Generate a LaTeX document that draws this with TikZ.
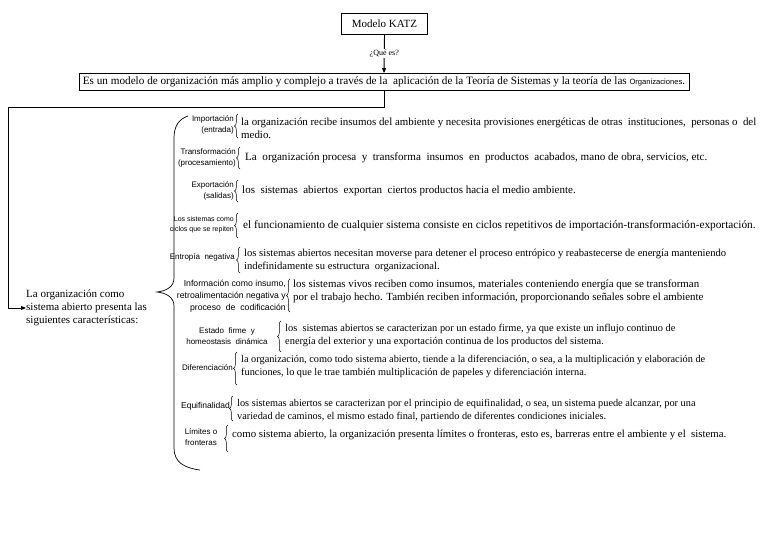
\documentclass[tikz,border=0pt]{standalone}
\usepackage{fontspec}
\setmainfont{Liberation Serif}
\newfontfamily\labfont{Liberation Sans}
\usetikzlibrary{decorations.pathreplacing,arrows.meta}
\newcommand{\fs}[1]{\fontsize{#1}{13}\selectfont}
\begin{document}
\begin{tikzpicture}[x=1pt,y=-1pt,
  txt/.style={anchor=west,align=left,inner sep=0pt,font=\fontsize{10}{13}\selectfont},
  lab/.style={anchor=east,align=right,inner sep=0pt,font=\labfont\fontsize{8}{10.5}\selectfont},
  labc/.style={align=center,inner sep=0pt,font=\labfont\fontsize{8}{11}\selectfont},
  sbrace/.style={decorate,decoration={brace,amplitude=3.5pt},line width=0.5pt},
  box/.style={draw,line width=0.8pt,inner sep=0pt},
  conn/.style={line width=0.9pt},
  tip/.style={-{Triangle[length=5pt,width=4pt]}},
]
\useasboundingbox (0,0) rectangle (768,543);
\fill[white] (0,0) rectangle (768,543);

\node[box,minimum width=86pt,minimum height=21pt,font=\fontsize{11}{13}\selectfont] (katz) at (384.5,23.5) {Modelo KATZ};
\node[box,minimum width=610pt,minimum height=17pt,font=\fontsize{11.2}{13}\selectfont] (def) at (384,82)
  {Es un modelo de organización más amplio y complejo a través de la\ \ aplicación de la Teoría de Sistemas y la teoría de las {\labfont\fontsize{7.6}{8}\selectfont Organizaciones}.};
\draw[conn,tip] (katz.south) -- node[fill=white,inner sep=1pt,font=\fontsize{8}{9}\selectfont]{¿Qué es?} (def.north);

\node[txt,font=\fontsize{11}{13}\selectfont] (org) at (26,308) {La organización como\\sistema abierto presenta las\\siguientes características:};
\coordinate (c1) at (8,107);
\draw[conn,tip] (def.south) |- (c1) |- (org.west);

% big brace
\draw[line width=0.7pt] (188,116) .. controls (179,119) and (174,126) .. (174,138) -- (174,278)
  .. controls (174,287) and (166,291) .. (157,292) .. controls (166,293) and (174,297) .. (174,306)
  -- (174,448) .. controls (174,462) and (184,468) .. (200,470);

% row 1
\node[lab] (l1) at (234,125) {Importación\\(entrada)};
\draw[sbrace] (238,138) -- (238,114);
\node[txt,font=\fs{10.9}] (t1) at (241,128) {la organización recibe insumos del ambiente y necesita provisiones energéticas de otras\ \ instituciones,\ \ personas o\ \ del\\medio.};
% row 2
\node[lab] (l2) at (236,158) {Transformación\\(procesamiento)};
\draw[sbrace] (240,169) -- (240,147);
\node[txt,font=\fs{11.1}] (t2) at (245,158) {La\ \ organización procesa\ \ y\ \ transforma\ \ insumos\ \ en\ \ productos\ \ acabados, mano de obra, servicios, etc.};
% row 3
\node[lab] (l3) at (234,191) {Exportación\\(salidas)};
\draw[sbrace] (238,202) -- (238,180);
\node[txt,font=\fs{11}] (t3) at (242,191) {los\ \ sistemas\ \ abiertos\ \ exportan\ \ ciertos productos hacia el medio ambiente.};
% row 4
\node[lab,font=\labfont\fontsize{7}{10.5}\selectfont] (l4) at (234,224.5) {Los sistemas como\\ciclos que se repiten};
\draw[sbrace] (238,238) -- (238,213);
\node[txt,font=\fs{11.3}] (t4) at (243,226) {el funcionamiento de cualquier sistema consiste en ciclos repetitivos de importación-transformación-exportación.};
% row 5
\node[lab] (l5) at (235,257) {Entropía\ \ negativa};
\draw[sbrace] (240,273) -- (240,247);
\node[txt,font=\fs{10.6}] (t5) at (244,260.5) {los sistemas abiertos necesitan moverse para detener el proceso entrópico y reabastecerse de energía manteniendo\\indefinidamente su estructura\ \ organizacional.};
% row 6
\node[lab,font=\labfont\fontsize{8.7}{12}\selectfont] (l6) at (286,296) {Información como insumo,\\retroalimentación negativa y\\proceso\ \ de\ \ codificación};
\draw[sbrace] (290,312) -- (290,279);
\node[txt,font=\fs{10.9}] (t6) at (293,291.5) {los sistemas vivos reciben como insumos, materiales conteniendo energía que se transforman\\por el trabajo hecho. También reciben información, proporcionando señales sobre el ambiente};
% row 7
\node[labc] (l7) at (227,336.5) {Estado\ \ firme\ \ y\\homeostasis\ \ dinámica};
\draw[sbrace] (281,352) -- (281,321);
\node[txt,font=\fs{10.4}] (t7) at (285,335.5) {los\ \ sistemas abiertos se caracterizan por un estado firme, ya que existe un influjo continuo de\\energía del exterior y una exportación continua de los productos del sistema.};
% row 8
\node[lab] (l8) at (233,368) {Diferenciación};
\draw[sbrace] (237,385) -- (237,352);
\node[txt,font=\fs{10.3}] (t8) at (241,366.5) {la organización, como todo sistema abierto, tiende a la diferenciación, o sea, a la multiplicación y elaboración de\\funciones, lo que le trae también multiplicación de papeles y diferenciación interna.};
% row 9
\node[lab,font=\labfont\fontsize{8.5}{10.5}\selectfont] (l9) at (230,406) {Equifinalidad};
\draw[sbrace] (233,421) -- (233,396);
\node[txt,font=\fs{10.3}] (t9) at (237,410) {los sistemas abiertos se caracterizan por el principio de equifinalidad, o sea, un sistema puede alcanzar, por una\\variedad de caminos, el mismo estado final, partiendo de diferentes condiciones iniciales.};
% row 10
\node[labc] (l10) at (201,437.5) {Límites o\\fronteras};
\draw[sbrace] (228,452) -- (228,425);
\node[txt,font=\fs{10.8}] (t10) at (232,435) {como sistema abierto, la organización presenta límites o fronteras, esto es, barreras entre el ambiente y el\ \ sistema.};
\end{tikzpicture}
\end{document}
